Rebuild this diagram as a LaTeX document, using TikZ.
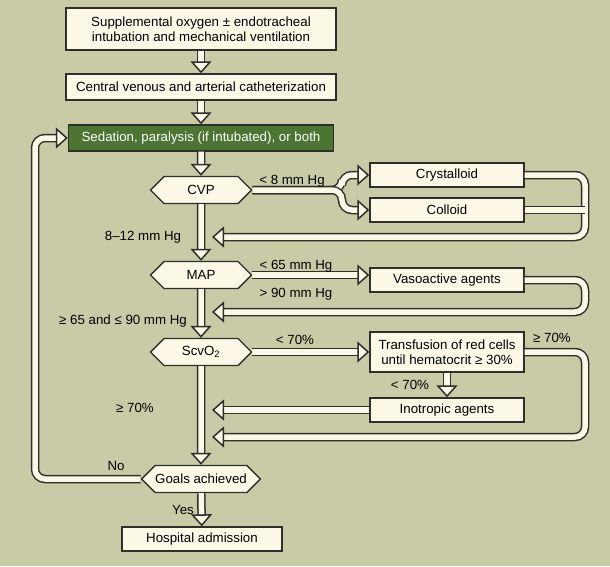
\documentclass[tikz,border=0pt]{standalone}
\usepackage{fontspec}
\setmainfont{Liberation Sans}
\usetikzlibrary{shapes.symbols,arrows.meta}
\definecolor{bgolive}{HTML}{C8CBA6}
\definecolor{cream}{HTML}{FBF9E6}
\definecolor{darkline}{HTML}{2E2E2A}
\definecolor{sedgreen}{HTML}{4C7432}
\tikzset{
  box/.style={draw=darkline, line width=1.4pt, fill=cream, inner sep=2pt, align=center, font=\fontsize{13.3}{14.5}\selectfont},
  hexa/.style={signal, signal to=west and east, draw=darkline, line width=1.4pt, fill=cream, minimum width=101pt, minimum height=27pt, inner xsep=0pt, font=\fontsize{13.3}{14.5}\selectfont},
  pipe/.style={draw=darkline, line width=1.5pt, double=cream, double distance=5.5pt, rounded corners=10pt},
  tip/.style={-{Triangle[open,fill=cream,width=21pt,length=12pt,line width=1.5pt]}},
  lbl/.style={font=\fontsize{13.3}{14.5}\selectfont, inner sep=1pt}
}
\begin{document}
\begin{tikzpicture}[x=1pt,y=-1pt]
\fill [bgolive] (0,0) rectangle (610,566);
\useasboundingbox (0,0) rectangle (610,566);
% main column
\node [box, minimum width=270pt, minimum height=42pt] (oxy) at (201,29) {Supplemental oxygen ± endotracheal\\intubation and mechanical ventilation};
\node [box, minimum width=270pt, minimum height=26pt] (cath) at (201,87) {Central venous and arterial catheterization};
\node [box, fill=sedgreen, text=white, minimum width=265pt, minimum height=26pt] (sed) at (201,138) {Sedation, paralysis (if intubated), or both};
\node [hexa] (cvp) at (201,190) {CVP};
\node [hexa] (map) at (201,275) {MAP};
\node [hexa] (scv) at (201,352) {ScvO\textsubscript{2}};
\node [hexa] (goal) at (201,479) {Goals achieved};
\node [box, minimum width=160pt, minimum height=24pt] (hosp) at (202,539) {Hospital admission};
% side boxes
\node [box, minimum width=154pt, minimum height=24pt] (crys) at (447,175) {Crystalloid};
\node [box, minimum width=154pt, minimum height=24pt] (coll) at (447,210) {Colloid};
\node [box, minimum width=154pt, minimum height=24pt] (vaso) at (447,280) {Vasoactive agents};
\node [box, minimum width=154pt, minimum height=40pt] (trans) at (447,352) {Transfusion of red cells\\until hematocrit ≥ 30\%};
\node [box, minimum width=154pt, minimum height=24pt] (ino) at (447,410) {Inotropic agents};
% return points on the trunk
\coordinate (r1) at (212,237);
\coordinate (r2) at (212,312);
\coordinate (r3) at (212,410);
\coordinate (r4) at (212,437);
% trunk
\draw [pipe, tip] (oxy) -- (cath);
\draw [pipe, tip] (cath) -- (sed);
\draw [pipe, tip] (sed) -- (cvp);
\draw [pipe, tip] (cvp) -- (map);
\draw [pipe, tip] (map) -- (scv);
\draw [pipe, tip] (scv) -- (goal);
\draw [pipe, tip] (goal) -- (hosp);
% fluid loop
\draw [pipe, tip] (cvp.east) -- (342,190) |- (crys.west);
\draw [pipe, tip] (cvp.east) -- (342,190) |- (coll.west);
\draw [pipe, tip] (crys.east) -- (585,175) |- (r1);
\draw [pipe] (coll.east) -- (585,210);
% vasoactive loop
\draw [pipe, tip] (map.east) -- (vaso.west |- map.east);
\draw [pipe, tip] (vaso.east) -- (585,280) |- (r2);
% oxygen delivery loop
\draw [pipe, tip] (scv.east) -- (trans.west |- scv.east);
\draw [pipe, tip] (trans.south) -- (ino.north);
\draw [pipe, tip] (ino.west) -- (r3);
\draw [pipe, tip] (trans.east) -- (585,352) |- (r4);
% back to sedation
\draw [pipe, tip] (goal.west) -- (35,479) |- (sed.west);
% labels
\node [lbl] at (292,181) {< 8 mm Hg};
\node [lbl] at (143,237) {8–12 mm Hg};
\node [lbl] at (296,266) {< 65 mm Hg};
\node [lbl] at (296,294) {> 90 mm Hg};
\node [lbl] at (123,321) {≥ 65 and ≤ 90 mm Hg};
\node [lbl] at (295,340) {< 70\%};
\node [lbl] at (552,338) {≥ 70\%};
\node [lbl] at (410,385) {< 70\%};
\node [lbl] at (135,408) {≥ 70\%};
\node [lbl] at (116,466) {No};
\node [lbl] at (183,510) {Yes};
\end{tikzpicture}
\end{document}
